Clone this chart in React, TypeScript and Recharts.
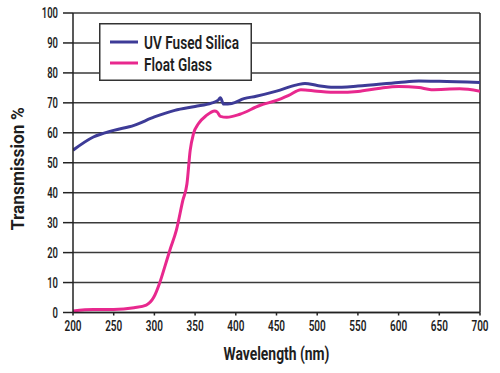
import React from "react";
import { LineChart, Line, XAxis, YAxis, CartesianGrid, Legend, ReferenceLine } from "recharts";

const silicaWavelength = [200, 225, 250, 275, 300, 325, 350, 370, 378, 381, 385, 395, 410, 425, 450, 475, 485, 500, 520, 550, 600, 625, 650, 700];
const silicaTransmission = [54.2, 58.6, 60.8, 62.5, 65.3, 67.5, 68.8, 69.9, 70.8, 71.7, 69.6, 69.8, 71.4, 72.2, 73.9, 76.0, 76.5, 75.8, 75.2, 75.6, 76.8, 77.3, 77.2, 76.8];

const floatWavelength = [200, 225, 250, 275, 290, 299, 307, 313, 319, 327, 335, 340, 344, 348, 354, 364, 374, 377, 381, 389, 405, 430, 450, 465, 480, 500, 525, 550, 575, 600, 625, 640, 675, 700];
const floatTransmission = [0.5, 1.0, 1.0, 1.6, 2.5, 5.0, 10.3, 15.5, 20.8, 27.5, 37.5, 43.0, 54.2, 59.7, 63.0, 65.8, 67.3, 67.0, 65.5, 65.2, 66.2, 69.2, 70.8, 72.5, 74.4, 73.9, 73.5, 73.8, 74.8, 75.5, 75.1, 74.4, 74.7, 73.9];

const xTicks = [200, 250, 300, 350, 400, 450, 500, 550, 600, 650, 700];
const yTicks = [0, 10, 20, 30, 40, 50, 60, 70, 80, 90, 100];

const seriesNames = ["UV Fused Silica", "Float Glass"];
const seriesColors = ["#3d3b97", "#e8288e"];
const xTitle = "Wavelength (nm)";
const yTitle = "Transmission %";

const silicaData = silicaWavelength.map((w, i) => ({ w, t: silicaTransmission[i] }));
const floatData = floatWavelength.map((w, i) => ({ w, t: floatTransmission[i] }));

const FONT = "Roboto, 'Liberation Sans', sans-serif";
const TEXT = "#1e1e1e";

const XTick = (props: any) => {
  const { x, y, payload } = props;
  const s = String(payload.value);
  return (
    <text x={x} y={y + 11} textAnchor="middle" fill={TEXT} fontFamily={FONT} fontSize={15} fontWeight={600} textLength={s.length * 5.7} lengthAdjust="spacingAndGlyphs">
      {s}
    </text>
  );
};

const YTick = (props: any) => {
  const { x, y, payload } = props;
  const s = String(payload.value);
  return (
    <text x={x} y={y + 5} textAnchor="end" fill={TEXT} fontFamily={FONT} fontSize={14} fontWeight={600} textLength={s.length * 5.4} lengthAdjust="spacingAndGlyphs">
      {s}
    </text>
  );
};

const XTitle = (props: any) => {
  const vb = props.viewBox || { x: 73, y: 312.5, width: 407, height: 30 };
  return (
    <text x={vb.x + vb.width / 2} y={vb.y + 47.5} textAnchor="middle" fill={TEXT} fontFamily={FONT} fontSize={18} fontWeight={700} textLength={106} lengthAdjust="spacingAndGlyphs">
      {xTitle}
    </text>
  );
};

const YTitle = (props: any) => {
  const vb = props.viewBox || { x: 0, y: 13, width: 73, height: 299.5 };
  const cx = 24;
  const cy = vb.y + vb.height / 2 + 6;
  return (
    <text x={cx} y={cy} transform={`rotate(-90 ${cx} ${cy})`} textAnchor="middle" fill={TEXT} fontFamily={FONT} fontSize={18} fontWeight={700} textLength={123} lengthAdjust="spacingAndGlyphs">
      {yTitle}
    </text>
  );
};

const legendTextLengths = [95, 68];

const renderLegend = () => (
  <svg width={153} height={58} style={{ display: "block", overflow: "visible" }}>
    <rect x={0.75} y={0.75} width={151.5} height={56.5} fill="#fff" stroke="#333" strokeWidth={1.5} />
    {seriesNames.map((n, i) => (
      <g key={n}>
        <line x1={11} x2={39} y1={19 + i * 21} y2={19 + i * 21} stroke={seriesColors[i]} strokeWidth={3} />
        <text x={45} y={26 + i * 21.5} fill={TEXT} fontFamily={FONT} fontSize={19} fontWeight={600} textLength={legendTextLengths[i]} lengthAdjust="spacingAndGlyphs">
          {n}
        </text>
      </g>
    ))}
  </svg>
);

export default function App() {
  return (
    <div style={{ position: "absolute", left: 0, top: 0, background: "#fff" }}>
      <LineChart width={500} height={373} margin={{ top: 13, right: 20, bottom: 30.5, left: 0 }}>
        <CartesianGrid vertical={false} horizontal={true} stroke="#3a3a3a" strokeWidth={1.5} />
        <XAxis
          type="number"
          dataKey="w"
          domain={[200, 700]}
          ticks={xTicks}
          allowDataOverflow
          height={30}
          tickSize={3}
          tickMargin={4}
          stroke="#222"
          strokeWidth={1.5}
          tick={<XTick />}
          label={<XTitle />}
        />
        <YAxis
          type="number"
          domain={[0, 100]}
          ticks={yTicks}
          width={73}
          tickSize={10}
          tickMargin={5}
          stroke="#222"
          strokeWidth={1.5}
          tick={<YTick />}
          label={<YTitle />}
        />
        <ReferenceLine x={700} stroke="#222" strokeWidth={1.5} />
        <Legend
          layout="horizontal"
          verticalAlign="middle"
          align="center"
          wrapperStyle={{ position: "absolute", left: 99, top: 23, width: 153, height: 58 }}
          content={renderLegend}
        />
        <Line data={silicaData} dataKey="t" name={seriesNames[0]} type="monotone" stroke={seriesColors[0]} strokeWidth={3} dot={false} isAnimationActive={false} />
        <Line data={floatData} dataKey="t" name={seriesNames[1]} type="monotone" stroke={seriesColors[1]} strokeWidth={3} dot={false} isAnimationActive={false} />
      </LineChart>
    </div>
  );
}
